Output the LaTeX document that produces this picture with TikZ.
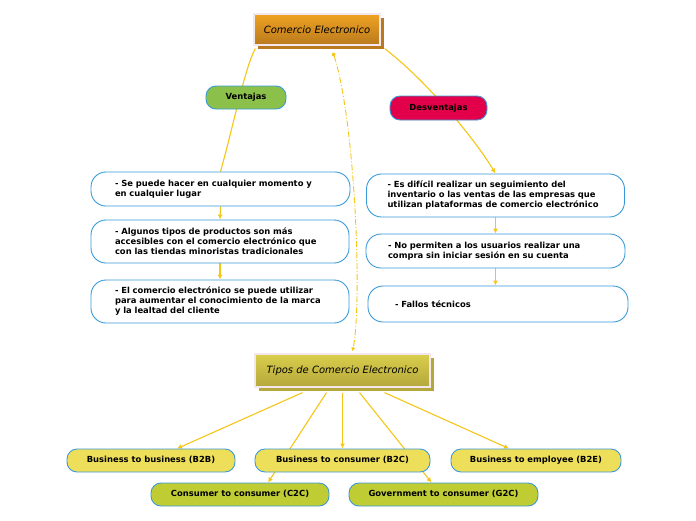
\documentclass[tikz,border=0pt]{standalone}
\usepackage{fontspec}
\setmainfont{DejaVu Sans}
\usetikzlibrary{arrows.meta,shadows,backgrounds}

\definecolor{bordeazul}{HTML}{3A9AD9}
\definecolor{lineaamarilla}{HTML}{F5C518}
\definecolor{naranjaalto}{HTML}{EFA223}
\definecolor{naranjabajo}{HTML}{B97A1D}
\definecolor{olivaalto}{HTML}{DACE4C}
\definecolor{olivabajo}{HTML}{B4A73C}
\definecolor{verdeventaja}{HTML}{8BC04A}
\definecolor{rojodesventaja}{HTML}{E3004B}
\definecolor{amarillotipo}{HTML}{EEDF5A}
\definecolor{limatipo}{HTML}{BFCC34}
\definecolor{bordeclaro}{HTML}{F3E6EE}

\begin{document}
\begin{tikzpicture}[x=1pt, y=-1pt,
	font=\fontsize{8.4}{10}\selectfont\bfseries,
	titulo/.style={rectangle, draw=bordeclaro, line width=1.2pt, minimum height=31pt,
		font=\fontsize{10}{12}\selectfont\itshape\mdseries},
	pildora/.style={draw=bordeazul, line width=0.9pt, rounded corners=10pt, minimum height=23pt, inner sep=0pt,
		text height=6.2pt, text depth=1.8pt},
	caja/.style={draw=bordeazul, fill=white, line width=0.9pt, rounded corners=15pt, align=left,
		inner xsep=24pt, text width=#1},
	flecha/.style={draw=lineaamarilla, line width=1.1pt, -{Latex[length=5pt,width=5pt]}},
	linea/.style={draw=lineaamarilla, line width=1.1pt}]
\useasboundingbox (0,0) rectangle (696,520);

% titulos
\node[titulo, minimum width=126pt, top color=naranjaalto, bottom color=naranjabajo,
	drop shadow={fill=naranjabajo, opacity=1, shadow xshift=4pt, shadow yshift=-4pt}]
	(ce) at (317,29.5) {Comercio Electronico};
\node[titulo, minimum width=175pt, minimum height=33pt, top color=olivaalto, bottom color=olivabajo,
	drop shadow={fill=olivabajo, opacity=1, shadow xshift=4pt, shadow yshift=-4pt}]
	(tc) at (342.5,370.5) {Tipos de Comercio Electronico};

% ventajas y desventajas
\node[pildora, fill=verdeventaja, minimum width=80pt] (ven) at (246,97.5) {Ventajas};
\node[pildora, fill=rojodesventaja, minimum width=97pt, minimum height=24pt] (des) at (438.5,108) {Desventajas};

\node[caja=211pt, minimum height=34pt] (l1) at (220.5,189) {- Se puede hacer en cualquier momento y\\en cualquier lugar};
\node[caja=210pt, minimum height=43pt] (l2) at (220,241.5) {- Algunos tipos de productos son más\\accesibles con el comercio electrónico que\\con las tiendas minoristas tradicionales};
\node[caja=210pt, minimum height=43pt] (l3) at (220,301.5) {- El comercio electrónico se puede utilizar\\para aumentar el conocimiento de la marca\\y la lealtad del cliente};

\node[caja=216pt, inner xsep=21pt, minimum height=43pt] (r1) at (495.5,195.5) {- Es difícil realizar un seguimiento del\\inventario o las ventas de las empresas que\\utilizan plataformas de comercio electrónico};
\node[caja=215pt, inner xsep=22pt, minimum height=34pt] (r2) at (495.5,251) {- No permiten a los usuarios realizar una\\compra sin iniciar sesión en su cuenta};
\node[caja=206pt, inner xsep=27pt, minimum height=36pt] (r3) at (498,304) {- Fallos técnicos};

% tipos
\node[pildora, fill=amarillotipo, minimum width=168pt] (b2b) at (151,460.5) {Business to business (B2B)};
\node[pildora, fill=amarillotipo, minimum width=175pt] (b2c) at (342.5,460.5) {Business to consumer (B2C)};
\node[pildora, fill=amarillotipo, minimum width=170pt] (b2e) at (536,460.5) {Business to employee (B2E)};
\node[pildora, fill=limatipo, minimum width=178pt] (c2c) at (240,494.5) {Consumer to consumer (C2C)};
\node[pildora, fill=limatipo, minimum width=189pt] (g2c) at (443.5,494.5) {Government to consumer (G2C)};

\begin{pgfonlayer}{background}
\path[linea] ([xshift=2pt,yshift=-3pt]ce.south west) .. controls +(-10,17) and +(14,-50) .. (l1.north);
\path[flecha] ([xshift=4pt,yshift=-3pt]ce.south east) .. controls +(36,27) and +(-24,-40) .. (r1.north);
\path[draw=lineaamarilla, line width=0.9pt, dash pattern=on 6pt off 2pt on 1pt off 2pt,
	{Circle[length=4pt]}-{Latex[length=4pt,width=4pt]}]
	([xshift=16pt,yshift=-7pt]ce.south) .. controls +(22,68) and +(10,-50) .. ([xshift=10pt,yshift=2pt]tc.north);

\path[flecha] (l1.south) -- (l2.north);
\path[flecha] (l2.south) -- (l3.north);
\path[flecha] (r1.south) -- (r1.south |- r2.north);
\path[flecha] (r2.south) -- (r2.south |- r3.north);

\path[flecha] ([xshift=-40pt,yshift=-5pt]tc.south) -- ([xshift=26pt]b2b.north);
\path[flecha] ([xshift=-16pt,yshift=-5pt]tc.south) -- ([xshift=28pt]c2c.north);
\path[flecha] ([xshift=0pt,yshift=-5pt]tc.south) -- (b2c.north);
\path[flecha] ([xshift=17pt,yshift=-5pt]tc.south) -- ([xshift=-12pt]g2c.north);
\path[flecha] ([xshift=42pt,yshift=-5pt]tc.south) -- ([xshift=-27pt]b2e.north);
\end{pgfonlayer}
\end{tikzpicture}
\end{document}
